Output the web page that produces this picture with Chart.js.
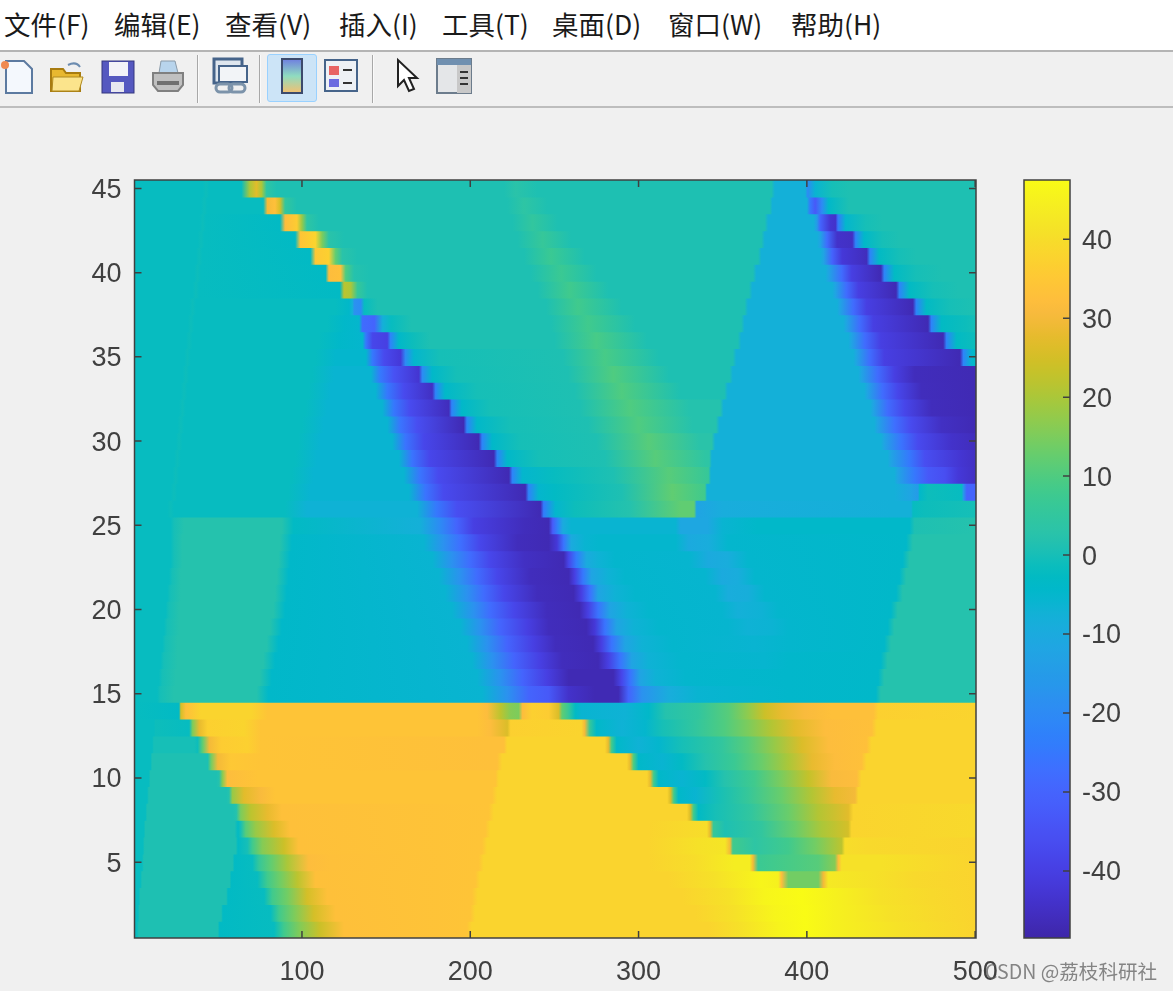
<!DOCTYPE html>
<html lang="zh">
<head>
<meta charset="utf-8">
<title>heatmap</title>
<script src="https://cdn.jsdelivr.net/npm/chart.js@4"></script>
<style>
html, body { margin: 0; padding: 0; width: 1173px; height: 991px; background: #f0f0f0; overflow: hidden; }
#menu { position: absolute; left: 0; top: 0; width: 1173px; height: 50px; background: #fff; border-bottom: 2px solid #b4b4b4; box-sizing: content-box; }
#menu span { position: absolute; top: 6px; font: 26.5px "Noto Sans CJK SC", sans-serif; line-height: 36px; color: #1a1a1a; white-space: nowrap; }
#tools { position: absolute; left: 0; top: 52px; width: 1173px; height: 54px; border-bottom: 2px solid #bdbdbd; }
#tools .sep { position: absolute; top: 3px; width: 1px; height: 48px; background: #a8a8a8; border-right: 1px solid #fafafa; }
#tools .on { position: absolute; left: 267px; top: 2px; width: 48px; height: 46px; background: #cce4f7; border: 1px solid #99d1ff; border-radius: 3px; }
#tools svg { position: absolute; top: 5px; }
canvas { position: absolute; left: 0; top: 0; }
#mark { position: absolute; left: 985px; top: 958px; font: 19.6px "Noto Sans CJK SC", sans-serif; line-height: 26px; color: rgba(90,90,90,0.72); white-space: nowrap; }
</style>
</head>
<body>
<div id="menu"></div>
<div id="tools">
  <svg style="left:0" width="36" height="40"><path d="M6 4h18l8 8v24H6z" fill="#f4f8fd" stroke="#5c7aa0" stroke-width="2"/><circle cx="5" cy="8" r="4" fill="#f08a50"/></svg>
  <svg style="left:48px" width="38" height="40"><path d="M3 12h12l3 4h14v18H3z" fill="#e8b830" stroke="#a87c10" stroke-width="2"/><path d="M5 20h30l-4 14H4z" fill="#fbe48c" stroke="#b08a20"/><path d="M20 8q8-4 12 2" fill="none" stroke="#6c8cb0" stroke-width="2"/></svg>
  <svg style="left:100px" width="36" height="40"><rect x="2" y="4" width="32" height="32" fill="#5558c0" stroke="#34367e"/><rect x="9" y="5" width="19" height="14" fill="#f2f2f8"/><rect x="11" y="25" width="13" height="10" fill="#e8e8f0"/></svg>
  <svg style="left:150px" width="36" height="40"><path d="M11 4h14l3 12H9z" fill="#b8d4ec" stroke="#8a9aa8"/><path d="M3 16h30v12l-5 6H8l-5-6z" fill="#c0c0c0" stroke="#808080" stroke-width="2"/><rect x="7" y="24" width="22" height="4" fill="#707070"/></svg>
  <div class="sep" style="left:197px"></div>
  <svg style="left:211px" width="38" height="40"><rect x="3" y="2" width="28" height="24" fill="#dfe6ee" stroke="#46648a" stroke-width="3"/><rect x="8" y="9" width="28" height="16" fill="#f2f4f7" stroke="#46648a" stroke-width="2"/><rect x="5" y="27" width="16" height="8" rx="4" fill="none" stroke="#7c93aa" stroke-width="3"/><rect x="18" y="27" width="16" height="8" rx="4" fill="none" stroke="#7c93aa" stroke-width="3"/></svg>
  <div class="sep" style="left:259px"></div>
  <div class="on"></div>
  <svg style="left:280px" width="24" height="40"><defs><linearGradient id="cb" x1="0" y1="0" x2="0" y2="1"><stop offset="0" stop-color="#6f7ee0"/><stop offset=".5" stop-color="#8fdcc0"/><stop offset="1" stop-color="#f4c070"/></linearGradient></defs><rect x="2" y="2" width="20" height="34" fill="url(#cb)" stroke="#3c4a6c" stroke-width="2"/></svg>
  <svg style="left:323px" width="36" height="40"><rect x="2" y="3" width="32" height="31" fill="#eef1f5" stroke="#46648a" stroke-width="2"/><rect x="6" y="9" width="10" height="9" fill="#e86464"/><rect x="6" y="22" width="10" height="8" fill="#6a6ae0"/><rect x="20" y="12" width="9" height="2" fill="#333"/><rect x="20" y="25" width="9" height="2" fill="#333"/></svg>
  <div class="sep" style="left:372px"></div>
  <svg style="left:394px" width="28" height="40"><path d="M4 3v26l6-6 5 11 5-2-5-11h8z" fill="#fff" stroke="#222" stroke-width="2"/></svg>
  <svg style="left:435px" width="38" height="40"><rect x="2" y="2" width="34" height="34" fill="#e4e6e8" stroke="#6c7c8c" stroke-width="2"/><rect x="2" y="2" width="34" height="6" fill="#7090b0"/><rect x="22" y="8" width="14" height="28" fill="#c8c8c8"/><rect x="25" y="14" width="8" height="2" fill="#333"/><rect x="25" y="20" width="8" height="2" fill="#333"/><rect x="25" y="26" width="8" height="2" fill="#333"/></svg>
</div>
<canvas id="heat" width="1173" height="991"></canvas>
<canvas id="bar" width="1173" height="991"></canvas>
<div id="mark">CSDN @荔枝科研社</div>
<script>
const menuItems = ['文件(F)', '编辑(E)', '查看(V)', '插入(I)', '工具(T)', '桌面(D)', '窗口(W)', '帮助(H)'];
const menuLeft = [4, 114, 225, 339, 442, 552, 668, 791];

const xTicks = [100, 200, 300, 400, 500];
const yTicks = [5, 10, 15, 20, 25, 30, 35, 40, 45];
const barTicks = [-40, -30, -20, -10, 0, 10, 20, 30, 40];
const barRange = [-48.5, 47.5];
const xRange = [0.5, 500.5];

const row01 = [0.5,-2,2,-2,3,1,50,1,51,-3,83.4,-2,89.3,8,99.2,16,111,24,125,33,198,34,201,38,341.5,38,361,41,385,46,399,47.5,416.7,45,456,41,484,39,500.5,38];
const row02 = [0.5,-2,2.5,-2,3.5,1,52,1,53,-3,81.4,-2,86.4,8,95.3,15,107,25,120,33,200,34,203,38,333.6,38,357,41,381,46,399,47.5,416.7,45,450,41,478,39,500.5,38];
const row03 = [0.5,-2,3,-2,4,1,55,1,56,-3,77.5,-2,82.4,8,91.3,14,103,25,115,33,201,34,204.5,38,325.7,38,353.4,41,375,46,397,47.5,416.7,45,444,41,474,39,500.5,38];
const row04 = [0.5,-2,4,-2,5,1,57,1,58,-3,73.5,-2,79.5,8,87.3,14,97.3,22,108,33,203,34,206,38,317.8,38,345.5,41,373,46,383,45,385,32,389,14,406.8,14,409.8,30,412.7,43,440.4,41,464,39,500.5,38];
const row05 = [0.5,-2,5,-2,6,1,58.7,1,60,-3,70.5,-2,74.5,6,81.4,12,91.3,20,104,32,117,33,205,34,208,38,306,38,333.6,40,357,44,366,44,368,30,371,7,389,9,406.8,11,416.7,16,418.7,32,420.7,41,444,41,500.5,38];
const row06 = [0.5,-2,5.5,-2,6.5,1,60.7,1,62,-3,67.6,0,70.6,8,76.5,16,89.3,24,98,33,207,34,210,38,306,38,335.6,41,351.4,42,354.4,30,356,8,369,4,389,8,405,14,420.7,22,422.6,40,436.5,39,500.5,38];
const row07 = [0.5,-2,6,-2,7,1,60,1,62,-3,63.6,0,66.6,11,72.5,18,83.4,26,93,33,209,34,212,38,306,38,340.6,40,342.5,28,344.5,6,351.4,1,373,5,393,13,408.8,20,424.6,25,426.6,38,500.5,39];
const row08 = [0.5,-2,7,-2,8,1,59,1,61,2,63.6,15,69.6,22,79.5,28,88,33,211,34,214,38,328.7,38,330.7,26,332.7,8,335.6,-3,345.5,0,367,5,389,13,406.8,21,424.6,27,427.6,38,500.5,39];
const row09 = [0.5,-2,8,-2,9,1,55,1,56.7,2,58.7,18,65.6,27,75.5,31,84,34,213,34,216,38,317,38,319,26,321,8,323.7,-4,333.6,-6,347.5,0,365,6,385,13,403,21,416.7,28,428.6,30,430.6,38,500.5,38];
const row10 = [0.5,-2,9,-2,10,1,49,1,50.8,2,52.7,16,55.7,32,73.5,34,215,34,217,38,305,38,307,28,309,8,312,-4,325.7,-6,339.6,-3,351,2,369,8,385,15,401,23,414.7,31,429.6,32,432.5,38,500.5,38];
const row11 = [0.5,-2,10,-2,11,1,43,1,44,1,46,14,50,30,57.7,35,75.5,34,212,33,216,33,219,38,293,38,295,28,297,10,300,-4,314,-6,325.7,-3,339.6,2,357,7,373,13,389,20,403,28,416.7,32,432.5,33,435.5,38,500.5,38];
const row12 = [0.5,-2,11,-2,12,0,36,0,38,-1,41,12,45,30,52,36,67.6,37,75.5,34,210,33,220,33,222,38,280,38,282,28,284,8,287,-4,300,-7,312,-5,325.7,0,349.5,5,365,11,381,18,397,26,413,32,435.5,33,438.5,38,500.5,38];
const row13 = [0.5,-2,12,-2,13,-1,32,-2,33,-2,35,15,39,28,44,37,65.6,38,75.5,34,204,34,212,32,222,26,224,37,266,38,268,30,271,6,275,-4,290,-7,304,-5,314,0,334,5,351,10,365,15,379,21,393,27,411,32,438.5,33,441.5,38,500.5,38];
const row14 = [0.5,-2,27,-3,28,25,31,33,40,38,70,38,79.5,34,204,34,210,32,218,22,224,16,228.8,15,231,32,236.7,37,246.6,36,252.5,26,254.5,12,258.5,6,262.4,-3,266,-6,292,-7,306,-4,316,2,335.6,5,353.4,11,365,17,375,24,385,28,399,31,414.7,33,439.5,33,442.4,37,500.5,38];
const row15 = [0.5,-2,14,-2,16,0,24,2,73,2,80,-4,207,-6,222,-18,235,-30,246.6,-33,258.5,-44,274,-47,288,-47,294,-30,302,-18,318,-9,335,-6,389,-4.5,441,-4,444,2,500.5,2];
const row16 = [0.5,-2,15,-2,17,0,25,2,75,2,82,-4,204,-6,218,-18,231,-30,245.6,-40,258.5,-47,285,-47,290,-38,295,-26,301,-12,310,-7,328,-5,389,-4.5,442.4,-4,446,2,500.5,2];
const row17 = [0.5,-2,16,-2,18,0,26,2,77,2,84,-4,201,-6,213,-18,226,-30,241.7,-40,254.5,-46,276,-47,282,-40,289,-26,296,-12,306,-7,325.7,-5,375,-5.5,389,-4.5,444,-4,448,2,500.5,2];
const row18 = [0.5,-2,17,-2,19,0,26,2,79,2,86,-4,198,-6,210,-18,222,-30,237.7,-40,250.6,-46,273,-47,278,-40,284,-26,292,-12,302,-7,320,-5,369,-6,389,-5,446,-4,450,2,500.5,2];
const row19 = [0.5,-2,18,-2,20,0,27,2,81,2,88,-4,194,-6,206,-18,218,-30,234,-40,246.6,-46,269,-47,274,-42,280,-26,287,-12,297,-7,312,-5,353,-5.5,365,-7,379,-6.5,389,-5,448,-4,452,2,500.5,2];
const row20 = [0.5,-2,19,-2,21,0,27,2,83,2,90,-4,189,-6,202,-18,212,-28,226,-38,245.6,-46,265,-47,270,-40,276,-26,283,-12,293,-7,306,-5,349.5,-5.5,359,-8,373,-7,383,-5,450,-4,454,2,500.5,2];
const row21 = [0.5,-2,20,-2,22,0,28,2,84,2,91,-4,185,-6,198,-18,208,-28,220,-38,239.7,-46,261.4,-47,266,-40,271,-27,276,-12,286,-7,298,-5,345.5,-5.5,353.4,-9,365,-8.5,375,-5,453,-4,457,2,500.5,2];
const row22 = [0.5,-2,21,-2,23,0,28,2,85,2,92,-4,181.3,-6,194,-18,204,-28,216,-38,235.7,-46,258.5,-47,262,-40,267,-25,272,-12,282,-7,292,-5,339.6,-5.5,349.5,-10,359,-9,369,-5,455,-4,459,2,500.5,2];
const row23 = [0.5,-2,22,-2,24,0,29,2,86,2,93,-4,177.4,-6,189,-18,200,-28,212,-38,232,-45,255.5,-47,258.5,-38,263,-24,269,-10,276,-7,286,-5,330,-5.5,341.5,-10,353,-9,365,-5,457,-4,461,2,500.5,2];
const row24 = [0.5,-2,22,-2,24,0,29,2,87,2,94,-4,172.4,-6,184,-18,194,-27,206,-38,228,-46,246.6,-47,251.5,-42,255.5,-26,260,-10,268,-6,276,-5,322,-5,330,-10,341.5,-9,353,-5,459,-4,463,2,500.5,2];
const row25 = [0.5,-2,22,-2,24,0,30,2,88,2,95,-3,170,-8,182,-20,192,-30,202,-40,232,-46,246.6,-47,249,-32,252,-22,255,-10,260,-6,322,-6,325,-11,341,-11,350,-6,370,-4,461,-4,464,1,500.5,2];
const row26 = [0.5,-2,20,-2,22,-1,24,-2,90,-2,103,-7,168.4,-7,180,-25,192,-36,241.7,-47,243.6,-24,250.6,-5,262,-1,295,2,325,12,333,12,334.5,-12,350,-9,450,-8,462,-8,463,-2,470,-1,500.5,0];
const row27 = [0.5,-2,22,-2,24,-1,26,-2,92,-2,105,-6,163.5,-6,173.4,-26,184,-37,232.7,-47,234.7,-22,240.7,-5,250,-3,290,1,320,12,339.5,8,340.6,-8,452,-8,462,-12,466,-15,467,-4,472,-1,492,-2,493,-15,495,-30,500.5,-30];
const row28 = [0.5,-2,23,-2,25,-1,27,-2,94,-2,107,-6,160.5,-6,170.4,-26,181,-37,223,-47,225,-22,231,-5,249.6,-2,285,1,318,11,341.5,6,343,-8,452,-8,454,-12,464,-25,472,-33,482,-36,490,-42,500.5,-45];
const row29 = [0.5,-2,24,-2,26,-1,28,-2,96,-2,109,-6,157.6,-6,165.5,-26,176,-38,214,-47,216,-22,222,-4,241,0,280,1,310,11,340,4,342,4,343.5,-8,448,-8,450,-12,461,-25,470,-36,492,-43,500.5,-45];
const row30 = [0.5,-2,25,-2,27,-1,29,-2,98,-2,111,-6,153.6,-6,161.5,-26,172.4,-38,205,-47,207,-22,213,-4,230,0,275,1,306,11,336,3,343.5,3,345.5,-8,444,-8,446,-12,456,-26,466,-37,486,-44,500.5,-46];
const row31 = [0.5,-2,26,-2,28,-1,30,-2,100,-2,113,-6,150.7,-6,158.6,-26,168.4,-36,196,-47,198,-22,204,-4,224,0,270,1,300,10,332,2,346,2,348,-8,440,-8,442,-12,452,-27,462,-37,480,-45,500.5,-47];
const row32 = [0.5,-2,27,-2,29,-1,31,-2,102,-2,115,-6,147.7,-6,154.6,-25,164.5,-37,187.3,-46,189,-22,195,-4,212,0,265,1,295,10,330,2,348.5,2,350.5,-8,437.5,-8,439.5,-12,448,-28,458,-38,474,-46,500.5,-47];
const row33 = [0.5,-2,28,-2,30,-1,32,-2,104,-2,117,-6,143.7,-6,150.7,-25,160.5,-37,177.4,-45,179.4,-22,185,-4,204,0,262,1,290,10,325,1,351,1,353,-8,434,-8,436,-12,445,-28,454,-38,468,-46,500.5,-47];
const row34 = [0.5,-2,29,-2,31,-1,33,-2,106,-2,119,-6,141,-6,146.7,-25,154.6,-35,169.5,-43,171.5,-20,177.4,-4,192,0,258,1,285,10,318,1,354,1,356,-8,430.5,-8,432.5,-12,442,-28,452,-40,464,-46,500.5,-47];
const row35 = [0.5,-2,30,-2,32,-1,34,-2,108,-2,120,-5,138,-5,142,-25,148.7,-37,158.6,-42,161.5,-20,166.5,-5,182,0,255,1,280,9,312,1,356,1,358,-8,427.6,-8,429.6,-12,437.5,-28,446,-40,491,-47,493,-22,498,-5,500.5,-3];
const row36 = [0.5,-2,31,-2,33,-1,35,-2,110,-2,122,-4,136,-5,138,-25,142,-38,150.7,-40,152.6,-22,157.6,-4,166,-1,176,1,250,1,275,9,305,1,359,1,361,-8,424.6,-8,426.6,-12,434.5,-28,444,-40,481,-47,483,-22,489,-3,500.5,-1];
const row37 = [0.5,-2,32,-2,34,-1,36,-2,115,-2,125,-4,134,-5,136,-28,143,-30,148,-8,153,-2,165,1,248,1,270,8,298,1,361,1,363,-8,421.6,-8,423.6,-12,431.5,-28,439.5,-40,472,-47,474,-22,480,-3,495,-1,500.5,0];
const row38 = [0.5,-2,33,-2,35,-1,37,-2,120,-2,128,-4,130,-8,131,-18,135,-20,137,-2,145,1,245,1,264,8,290,1,363,1,365,-8,418,-8,419.7,-12,427.6,-28,435.5,-40,463,-47,465,-22,471,-3,485,0,500.5,1];
const row39 = [0.5,-2,35,-2,37,-1,39,-2,122.6,-3,125,22,129,20,133,6,139,1,240,1,259,8,282,1,365.6,1,367.6,-8,415,-8,417,-12,423.6,-28,430.6,-40,453,-47,455,-22,461,-3,475,0,490,1,500.5,1];
const row40 = [0.5,-2,36,-2,38,-1,40,-2,114,-3,116,32,123,33,126,10,131,2,140,1,236,1,254,7,275,1,368,1,370,-8,411,-8,413,-12,420.7,-28,426.6,-40,444,-47,446,-22,452,-3,465,0,480,1,500.5,1];
const row41 = [0.5,-2,37,-2,39,-1,41,-2,105,-3,108,35,116,37,120,12,124,3,133,1,232,1,248,7,268,1,371,1,373,-8,408,-8,410,-12,415,-30,421,-42,435.5,-46,437.5,-22,443,-3,455,0,465,1,500.5,1];
const row42 = [0.5,-2,38,-2,40,-1,42,-2,96,-3,99,34,108,38,112,15,116,3,125,1,228,1,243,6,260,1,373,1,375,-8,406,-8,408,-12,412,-28,418,-44,427,-45,429,-22,434,-4,445,0,455,1,500.5,1];
const row43 = [0.5,-2,39,-2,41,-1,43,-2,87,-3,90,32,97,36,100,18,103,4,110,1,225,1,237,5,252,1,375,1,377,-8,404,-8,406,-15,408,-30,414,-43,417,-44,418.5,-25,423,-5,435,0,445,1,500.5,1];
const row44 = [0.5,-2,40,-2,42,-1,44,-2,77,-2,79.5,30,84,33,87,25,90,5,97,1,222,1,232,4,246,1,378,1,379.5,-8,400,-8,402,-25,405,-33,409,-20,413,-4,425,1,500.5,1];
const row45 = [0.5,-2,41,-2,43,-1,45,-2,64,-2,69,20,73,27,76,20,79,4,85,1,220,1,227,3,240,1,379,1,381,-8,399,-8,400.5,-20,405,-6,415,0,425,1,500.5,1];

const rows = [row01,row02,row03,row04,row05,row06,row07,row08,row09,row10,row11,row12,row13,row14,row15,
  row16,row17,row18,row19,row20,row21,row22,row23,row24,row25,row26,row27,row28,row29,row30,
  row31,row32,row33,row34,row35,row36,row37,row38,row39,row40,row41,row42,row43,row44,row45];

// parula
const parula = [
[.2422,.1504,.6603],[.2504,.1650,.7076],[.2578,.1818,.7511],[.2647,.1978,.7952],[.2706,.2147,.8364],[.2751,.2342,.8710],[.2783,.2559,.8991],[.2803,.2782,.9221],
[.2813,.3006,.9414],[.2810,.3228,.9579],[.2795,.3447,.9717],[.2760,.3667,.9829],[.2699,.3892,.9906],[.2602,.4123,.9952],[.2440,.4358,.9988],[.2206,.4603,.9973],
[.1963,.4847,.9892],[.1834,.5074,.9798],[.1786,.5289,.9682],[.1764,.5499,.9520],[.1687,.5703,.9359],[.1540,.5902,.9218],[.1460,.6091,.9079],[.1380,.6276,.8973],
[.1248,.6459,.8883],[.1113,.6635,.8763],[.0952,.6798,.8598],[.0689,.6948,.8394],[.0297,.7082,.8163],[.0036,.7203,.7917],[.0067,.7312,.7660],[.0433,.7411,.7394],
[.0964,.7500,.7120],[.1408,.7584,.6842],[.1717,.7670,.6554],[.1938,.7758,.6251],[.2161,.7843,.5923],[.2470,.7918,.5567],[.2906,.7973,.5188],[.3406,.8008,.4789],
[.3909,.8029,.4354],[.4456,.8024,.3909],[.5044,.7993,.3480],[.5616,.7942,.3045],[.6174,.7876,.2612],[.6720,.7793,.2227],[.7242,.7698,.1910],[.7738,.7598,.1646],
[.8203,.7498,.1535],[.8634,.7406,.1596],[.9035,.7330,.1774],[.9393,.7288,.2100],[.9728,.7298,.2394],[.9956,.7434,.2371],[.9970,.7659,.2199],[.9952,.7893,.2028],
[.9892,.8136,.1885],[.9786,.8386,.1766],[.9676,.8639,.1643],[.9610,.8890,.1537],[.9597,.9135,.1423],[.9628,.9373,.1265],[.9691,.9606,.1064],[.9769,.9839,.0805]];

function colorFor(v) {
    const t = (v - barRange[0]) / (barRange[1] - barRange[0]) * (parula.length - 1);
    const i = Math.max(0, Math.min(parula.length - 2, Math.floor(t)));
    const f = Math.max(0, Math.min(1, t - i));
    const c = parula[i].map((a, k) => Math.round(255 * (a + (parula[i + 1][k] - a) * f)));
    return 'rgb(' + c.join(',') + ')';
}

menuItems.forEach((m, i) => {
    const s = document.createElement('span');
    s.textContent = m;
    s.style.left = menuLeft[i] + 'px';
    document.getElementById('menu').appendChild(s);
});

const inkColor = '#404040';
const tickFont = { family: '"Liberation Sans", Arial, sans-serif', size: 27 };

// matlab style box with the tick marks pointing inward
const boxPlugin = {
    id: 'box',
    afterDatasetsDraw(chart, args, opts) {
        const { ctx, chartArea: a } = chart;
        ctx.save();
        ctx.strokeStyle = inkColor;
        ctx.lineWidth = 1.5;
        ctx.strokeRect(a.left, a.top, a.right - a.left, a.bottom - a.top);
        ctx.beginPath();
        (opts.yTicks || []).forEach(v => {
            const p = chart.scales.y.getPixelForValue(v);
            if (opts.leftTicks) { ctx.moveTo(a.left, p); ctx.lineTo(a.left + 7, p); }
            ctx.moveTo(a.right, p); ctx.lineTo(a.right - 7, p);
        });
        (opts.xTicks || []).forEach(v => {
            const p = chart.scales.x.getPixelForValue(v);
            ctx.moveTo(p, a.bottom); ctx.lineTo(p, a.bottom - 7);
            ctx.moveTo(p, a.top); ctx.lineTo(p, a.top + 7);
        });
        ctx.stroke();
        ctx.restore();
    }
};

// the scales have no size yet on the first resolve
function rowGradient(c) {
    const chart = c.chart, x = chart.scales.x;
    if (!x || c.dataIndex === undefined) return 'transparent';
    const from = x.getPixelForValue(xRange[0]), to = x.getPixelForValue(xRange[1]);
    if (!isFinite(from) || !isFinite(to)) return 'transparent';
    const g = chart.ctx.createLinearGradient(from, 0, to, 0);
    const r = rows[c.dataIndex];
    for (let i = 0; i < r.length; i += 2) {
        g.addColorStop((r[i] - xRange[0]) / (xRange[1] - xRange[0]), colorFor(r[i + 1]));
    }
    return g;
}

function barGradient(c) {
    const chart = c.chart, y = chart.scales.y;
    if (!y) return 'transparent';
    const from = y.getPixelForValue(barRange[0]), to = y.getPixelForValue(barRange[1]);
    if (!isFinite(from) || !isFinite(to)) return 'transparent';
    const g = chart.ctx.createLinearGradient(0, from, 0, to);
    parula.forEach((p, i) => {
        g.addColorStop(i / (parula.length - 1), 'rgb(' + p.map(a => Math.round(a * 255)).join(',') + ')');
    });
    return g;
}

new Chart(document.getElementById('heat'), {
    type: 'bar',
    data: {
        labels: rows.map((r, i) => String(i + 1)),
        datasets: [{
            data: rows.map(() => xRange),
            backgroundColor: rowGradient,
            barPercentage: 1,
            categoryPercentage: 1,
            borderWidth: 0,
            inflateAmount: 0.6
        }]
    },
    options: {
        indexAxis: 'y',
        responsive: false,
        animation: false,
        layout: { padding: { left: 0, right: 197, top: 180, bottom: 0 } },
        plugins: {
            legend: { display: false },
            tooltip: { enabled: false },
            box: { xTicks: xTicks, yTicks: yTicks.map(v => v - 1), leftTicks: true }
        },
        scales: {
            x: {
                type: 'linear',
                min: xRange[0],
                max: xRange[1],
                afterFit: s => { s.height = 53; },
                afterBuildTicks: s => { s.ticks = xTicks.map(v => ({ value: v })); },
                grid: { display: false, drawTicks: false },
                border: { display: false },
                ticks: { color: inkColor, font: tickFont, padding: 18, maxRotation: 0 }
            },
            y: {
                reverse: true,
                afterFit: s => { s.width = 134.5; },
                grid: { display: false, drawTicks: false },
                border: { display: false },
                ticks: {
                    autoSkip: false,
                    color: inkColor,
                    font: tickFont,
                    padding: 13,
                    labelOffset: 2,
                    callback(v) {
                        const l = Number(this.getLabelForValue(v));
                        return yTicks.includes(l) ? String(l) : '';
                    }
                }
            }
        }
    },
    plugins: [boxPlugin]
});

new Chart(document.getElementById('bar'), {
    type: 'bar',
    data: {
        labels: ['c'],
        datasets: [{
            data: [barRange],
            backgroundColor: barGradient,
            barPercentage: 1,
            categoryPercentage: 1,
            borderWidth: 0
        }]
    },
    options: {
        responsive: false,
        animation: false,
        layout: { padding: { left: 1024, right: 0, top: 180, bottom: 53 } },
        plugins: {
            legend: { display: false },
            tooltip: { enabled: false },
            box: { yTicks: barTicks }
        },
        scales: {
            x: { display: false },
            y: {
                position: 'right',
                min: barRange[0],
                max: barRange[1],
                afterFit: s => { s.width = 103; },
                afterBuildTicks: s => { s.ticks = barTicks.map(v => ({ value: v })); },
                grid: { display: false, drawTicks: false },
                border: { display: false },
                ticks: { color: inkColor, font: tickFont, padding: 12, labelOffset: 2, crossAlign: 'near' }
            }
        }
    },
    plugins: [boxPlugin]
});
</script>
</body>
</html>
